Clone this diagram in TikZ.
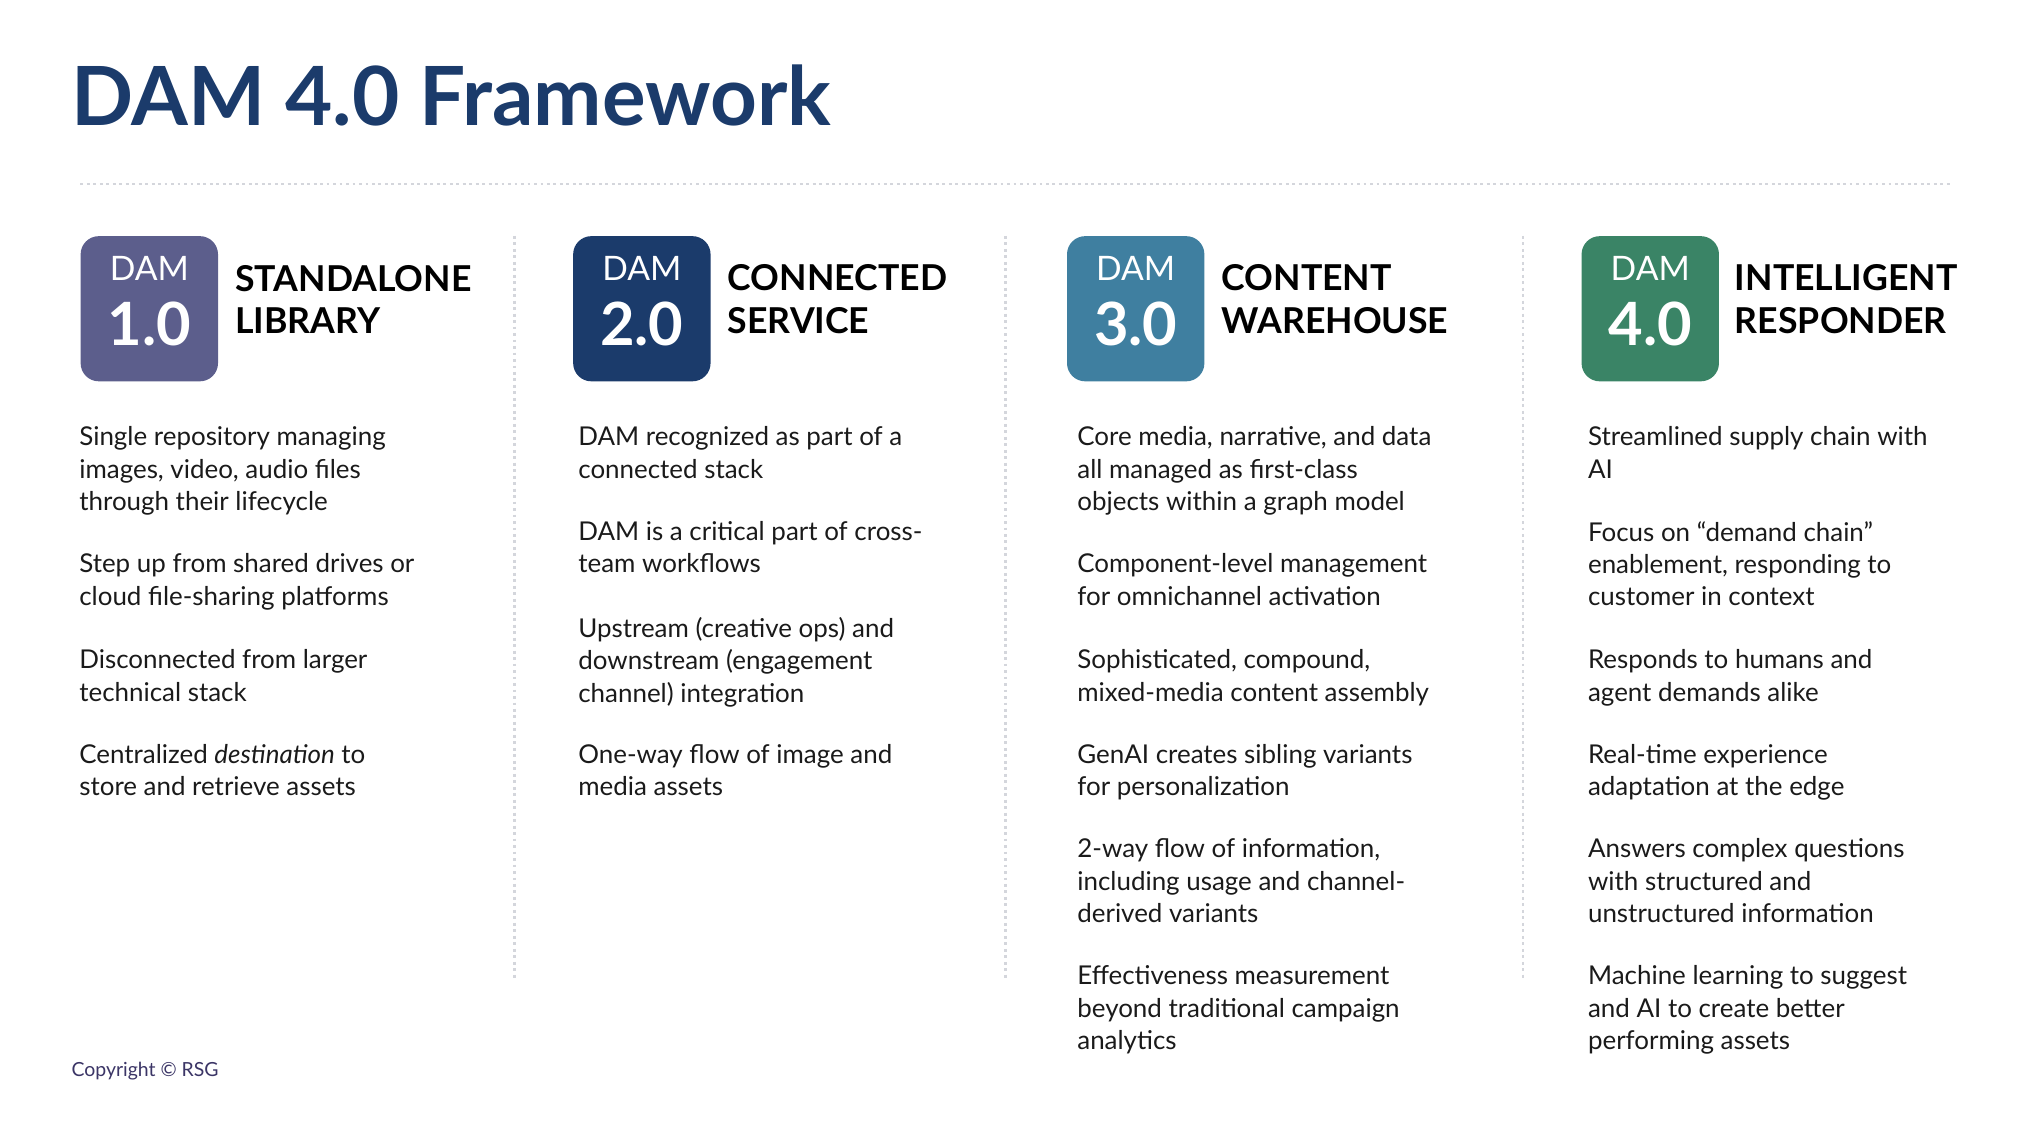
\documentclass[tikz,border=0pt]{standalone}
\usepackage{fontspec}
\setmainfont{Lato}
\definecolor{ttl}{HTML}{1B3B6B}
\definecolor{c1}{HTML}{5C5E8C}
\definecolor{c2}{HTML}{1B3B6B}
\definecolor{c3}{HTML}{3F7FA0}
\definecolor{c4}{HTML}{3A8466}
\definecolor{sep}{HTML}{D4D6DC}
\definecolor{txt}{HTML}{1A1A1A}
\definecolor{cpy}{HTML}{3B3566}
\begin{document}
\begin{tikzpicture}[x=1pt,y=-1pt,
  badge/.style={rounded corners=14pt,minimum width=106pt,minimum height=112pt,inner sep=0,anchor=north west},
  btxt/.style={text=white,inner sep=0,anchor=center},
  head/.style={anchor=west,align=left,font=\fontsize{27.5}{33}\selectfont\bfseries,text=black},
  para/.style={anchor=north west,align=left,inner sep=0,font=\fontsize{20}{25}\selectfont,text=txt},
  sepl/.style={sep,line width=2.2pt,dash pattern=on 2.2pt off 2.8pt}]
\useasboundingbox (0,0) rectangle (1560,866);
\node[anchor=west,text=ttl,font=\fontsize{63}{68}\selectfont\bfseries,inner sep=0] (title) at (55,74) {DAM 4.0 Framework};
\coordinate (hl) at (62,142); \coordinate (hr) at (1505,142);
\draw[sepl] (hl) -- (hr);
\foreach \x [count=\i] in {397,776,1175}{\coordinate (s\i a) at (\x,182); \coordinate (s\i b) at (\x,755); \draw[sepl] (s\i a) -- (s\i b);}
\newcommand\badge[4]{%
 \node[badge,fill=#2] (b#1) at (#3,182) {};
 \node[btxt,font=\fontsize{26}{26}\selectfont] (d#1) at ([yshift=-25pt]b#1.north) {DAM};
 \node[btxt,font=\fontsize{46}{46}\selectfont\bfseries] (n#1) at ([yshift=-68pt]b#1.north) {#4};}
\badge{1}{c1}{62}{1.0}
\badge{2}{c2}{442}{2.0}
\badge{3}{c3}{823}{3.0}
\badge{4}{c4}{1220}{4.0}
\node[head] (h1) at (178,231) {STANDALONE\\LIBRARY};
\node[head] (h2) at (558,231) {CONNECTED\\SERVICE};
\node[head] (h3) at (939,231) {CONTENT\\WAREHOUSE};
\node[head] (h4) at (1335,231) {INTELLIGENT\\RESPONDER};
% column 1
\node[para] (p11) at (61,329) {Single repository managing\\images, video, audio files\\through their lifecycle};
\node[para] (p12) at (61,427) {Step up from shared drives or\\cloud file-sharing platforms};
\node[para] (p13) at (61,501) {Disconnected from larger\\technical stack};
\node[para] (p14) at (61,574) {Centralized \textit{destination} to\\store and retrieve assets};
% column 2
\node[para] (p21) at (446,329) {DAM recognized as part of a\\connected stack};
\node[para] (p22) at (446,402) {DAM is a critical part of cross-\\team workflows};
\node[para] (p23) at (446,476) {Upstream (creative ops) and\\downstream (engagement\\channel) integration};
\node[para] (p24) at (446,574) {One-way flow of image and\\media assets};
% column 3
\node[para] (p31) at (831,329) {Core media, narrative, and data\\all managed as first-class\\objects within a graph model};
\node[para] (p32) at (831,427) {Component-level management\\for omnichannel activation};
\node[para] (p33) at (831,501) {Sophisticated, compound,\\mixed-media content assembly};
\node[para] (p34) at (831,574) {GenAI creates sibling variants\\for personalization};
\node[para] (p35) at (831,647) {2-way flow of information,\\including usage and channel-\\derived variants};
\node[para] (p36) at (831,745) {Effectiveness measurement\\beyond traditional campaign\\analytics};
% column 4
\node[para] (p41) at (1225,329) {Streamlined supply chain with\\AI};
\node[para] (p42) at (1225,402) {Focus on “demand chain”\\enablement, responding to\\customer in context};
\node[para] (p43) at (1225,501) {Responds to humans and\\agent demands alike};
\node[para] (p44) at (1225,574) {Real-time experience\\adaptation at the edge};
\node[para] (p45) at (1225,647) {Answers complex questions\\with structured and\\unstructured information};
\node[para] (p46) at (1225,745) {Machine learning to suggest\\and AI to create better\\performing assets};
\node[anchor=west,inner sep=0,text=cpy,font=\fontsize{15}{18}\selectfont] (cp) at (55,826) {Copyright © RSG};
\end{tikzpicture}
\end{document}
